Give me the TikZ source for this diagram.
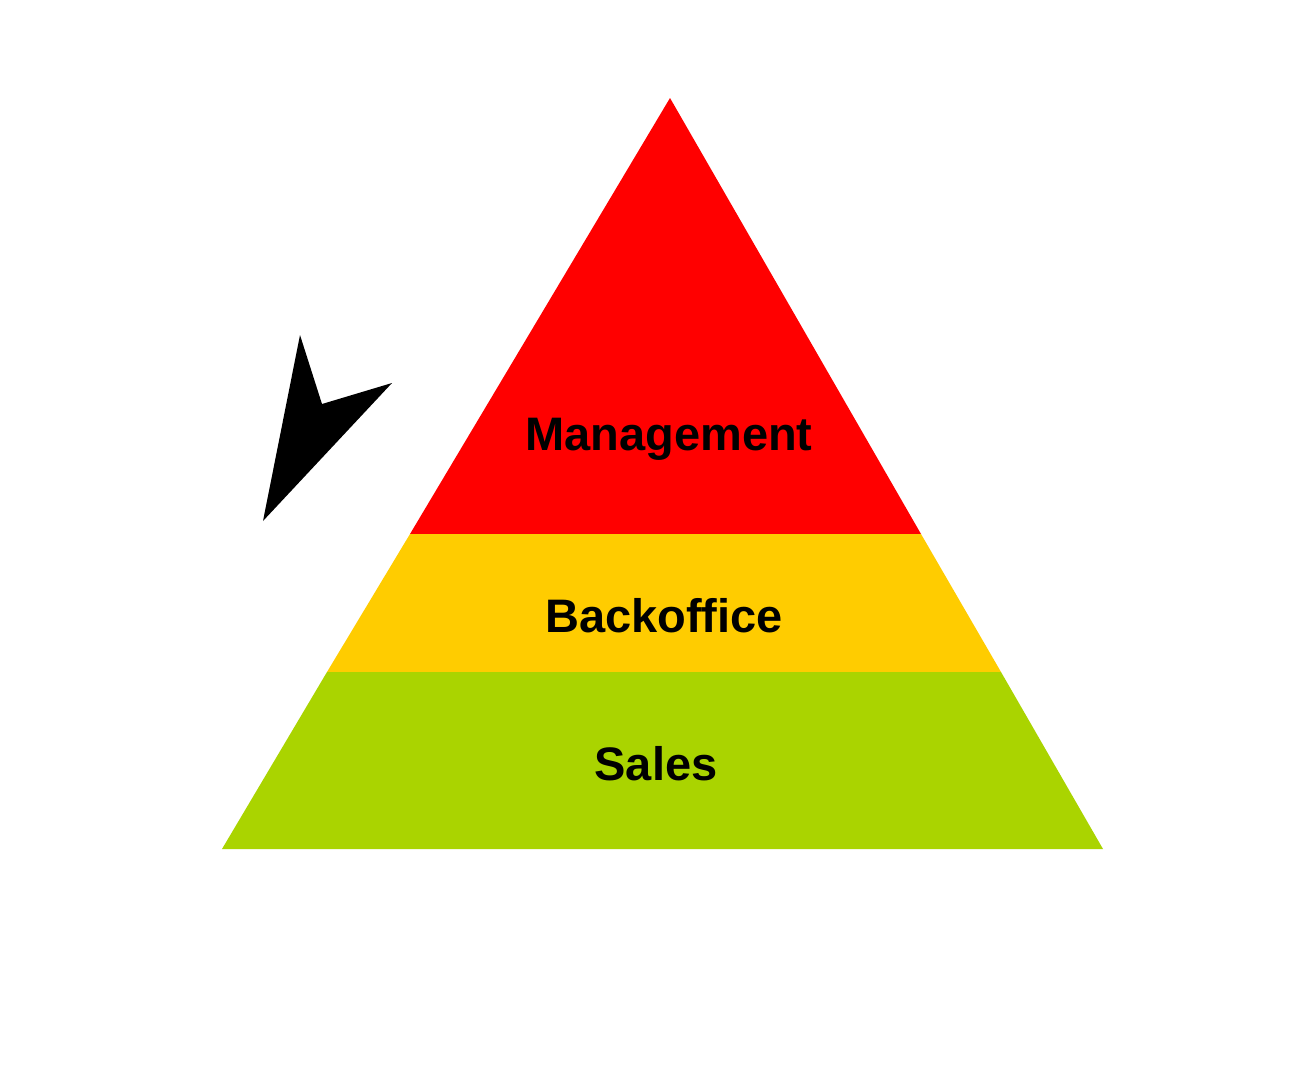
\documentclass[tikz,border=0pt]{standalone}
\usepackage{fontspec}
\setmainfont{Liberation Sans}
\definecolor{mgmt}{HTML}{FF0000}
\definecolor{back}{HTML}{FFCC00}
\definecolor{sales}{HTML}{AAD400}
\begin{document}
\begin{tikzpicture}[x=1pt,y=-1pt,
  label/.style={font=\fontsize{47}{56}\selectfont\bfseries, text=black, inner sep=0pt, anchor=base}]
\useasboundingbox[fill=white] (0,0) rectangle (1300,1065);
% pyramid corners
\coordinate (apex) at (670,98);
\coordinate (bl) at (222,849);
\coordinate (br) at (1103,849);
\coordinate (m1l) at (410,534);
\coordinate (m1r) at (921,534);
\coordinate (m2l) at (327,672);
\coordinate (m2r) at (1001,672);
\fill[mgmt] (apex) -- (m1r) -- (m1l) -- cycle;
\fill[back] (m1l) -- (m1r) -- (m2r) -- (m2l) -- cycle;
\fill[sales] (m2l) -- (m2r) -- (br) -- (bl) -- cycle;
% arrow
\fill[black] (300,335) -- (322,404) -- (392,383) -- (263,521) -- cycle;
% labels
\node[label] (management) at (669,450) {Management};
\node[label] (backoffice) at (664,632) {Backoffice};
\node[label] (salesl) at (656,780) {Sales};
\end{tikzpicture}
\end{document}
